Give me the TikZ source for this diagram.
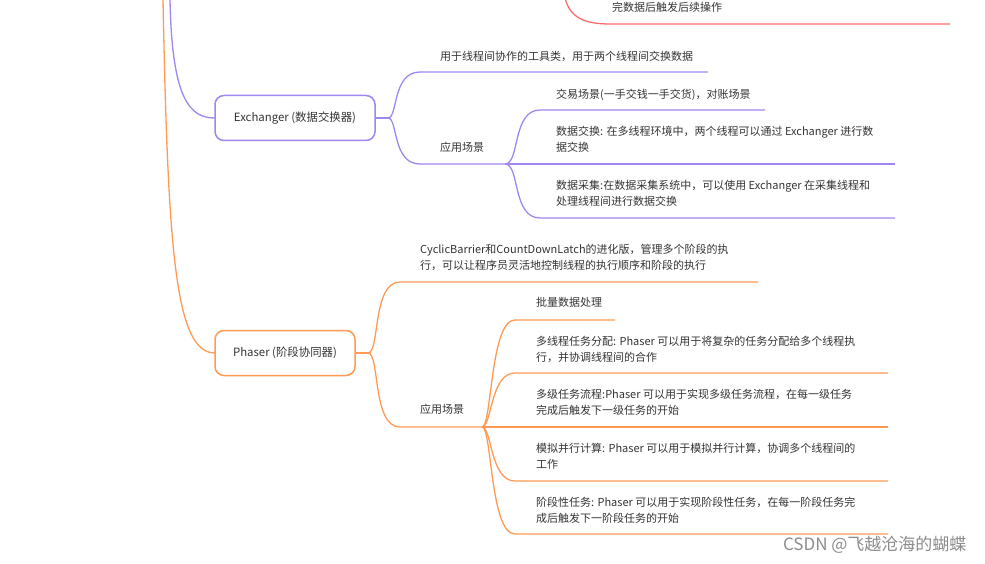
\documentclass[tikz,border=0pt]{standalone}
\usepackage{fontspec}
\setmainfont{Noto Sans CJK SC}
\begin{document}
\begin{tikzpicture}[x=1pt,y=-1pt,
	txt/.style={font=\fontsize{11}{16}\selectfont, text=black!80, anchor=north west, inner sep=0pt, align=left},
	topic/.style={draw=#1, line width=1.5pt, rounded corners=9pt, minimum height=45pt, font=\fontsize{11.4}{13}\selectfont, text=black!80},
	br/.style={line width=1.3pt}]
	\definecolor{ex}{HTML}{9F86F0}
	\definecolor{ph}{HTML}{FF9A55}
	\definecolor{rd}{HTML}{FF6B6B}
	\useasboundingbox (0,0) rectangle (985,564);
	% Tronco
		\draw[br, ph] (163,0) .. controls (168,250) and (175,353) .. (215,353);
		\draw[br, ex] (170,0) .. controls (172,100) and (190,118) .. (215,118);
		\draw[br, rd] (565,-2) .. controls (570,18) and (585,24) .. (610,24) -- (950,24);
		\node[txt] (prev) at (612,2) {完数据后触发后续操作};
	% Exchanger
		\node[topic=ex, minimum width=160pt] (exc) at (295,118) {Exchanger (数据交换器)};
		\coordinate (exr) at (388,118);
		\draw[br, ex] (exc.east) -- (exr);
		\draw[br, ex] (exr) .. controls (398,118) and (392,72) .. (420,72) -- (708,72);
		\node[txt] (exd) at (440,51) {用于线程间协作的工具类，用于两个线程间交换数据};
		\draw[br, ex] (exr) .. controls (398,118) and (392,164) .. (420,164) -- (505,164);
		\node[txt] (exa) at (440,142) {应用场景};
		\coordinate (exs) at (505,164);
		\draw[br, ex] (exs) .. controls (520,164) and (512,110) .. (540,110) -- (765,110);
		\node[txt] (ex1) at (556,89) {交易场景(一手交钱一手交货)，对账场景};
		\draw[br, ex] (exs) -- (895,164);
		\node[txt] (ex2) at (556,126) {数据交换: 在多线程环境中，两个线程可以通过 Exchanger 进行数\\据交换};
		\draw[br, ex] (exs) .. controls (520,164) and (512,218) .. (540,218) -- (895,218);
		\node[txt] (ex3) at (556,180) {数据采集:在数据采集系统中，可以使用 Exchanger 在采集线程和\\处理线程间进行数据交换};
	% Phaser
		\node[topic=ph, minimum width=140pt] (pha) at (285,353) {Phaser (阶段协同器)};
		\coordinate (phr) at (368,353);
		\draw[br, ph] (pha.east) -- (phr);
		\draw[br, ph] (phr) .. controls (380,353) and (372,282) .. (400,282) -- (758,282);
		\node[txt] (phd) at (420,244) {CyclicBarrier和CountDownLatch的进化版，管理多个阶段的执\\行，可以让程序员灵活地控制线程的执行顺序和阶段的执行};
		\draw[br, ph] (phr) .. controls (380,353) and (372,427) .. (400,427) -- (482,427);
		\node[txt] (pha2) at (420,404) {应用场景};
		\coordinate (phs) at (482,427);
		\draw[br, ph] (phs) .. controls (492,427) and (490,320) .. (515,320) -- (615,320);
		\node[txt] (ph1) at (536,297) {批量数据处理};
		\draw[br, ph] (phs) .. controls (492,427) and (490,373) .. (515,373) -- (888,373);
		\node[txt] (ph2) at (536,336) {多线程任务分配: Phaser 可以用于将复杂的任务分配给多个线程执\\行，并协调线程间的合作};
		\draw[br, ph] (phs) -- (888,427);
		\node[txt] (ph3) at (536,389) {多级任务流程:Phaser 可以用于实现多级任务流程，在每一级任务\\完成后触发下一级任务的开始};
		\draw[br, ph] (phs) .. controls (492,427) and (490,481) .. (515,481) -- (888,481);
		\node[txt] (ph4) at (536,443) {模拟并行计算: Phaser 可以用于模拟并行计算，协调多个线程间的\\工作};
		\draw[br, ph] (phs) .. controls (492,427) and (490,534) .. (515,534) -- (888,534);
		\node[txt] (ph5) at (536,497) {阶段性任务: Phaser 可以用于实现阶段性任务，在每一阶段任务完\\成后触发下一阶段任务的开始};
	% Marca
		\node[font=\fontsize{17}{19}\selectfont, text=black!45, anchor=east] (wm) at (970,545) {CSDN @飞越沧海的蝴蝶};
\end{tikzpicture}
\end{document}
